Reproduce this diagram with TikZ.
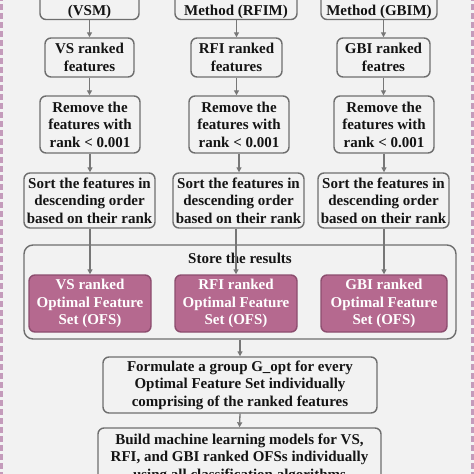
\documentclass[tikz,border=0pt]{standalone}
\usepackage{fontspec}
\setmainfont{Liberation Serif}
\usetikzlibrary{arrows.meta}
\definecolor{bg}{HTML}{F2F2F2}
\definecolor{edge}{HTML}{6E6E6E}
\definecolor{arr}{HTML}{777777}
\definecolor{pinkfill}{HTML}{B5698F}
\definecolor{pinkedge}{HTML}{8C4D6E}
\definecolor{txt}{HTML}{141414}
\definecolor{sideline}{HTML}{C49BBB}
\tikzset{
  box/.style={draw=edge, line width=1.4pt, rounded corners=6pt, fill=bg, inner sep=0pt,
    align=center, text=txt, font=\fontsize{15}{17.5}\selectfont\bfseries},
  topbox/.style={box, text height=34pt, text depth=4pt, anchor=base},
  pinkbox/.style={draw=pinkedge, line width=1.4pt, rounded corners=6pt, fill=pinkfill, inner sep=0pt,
    align=center, text=white, font=\fontsize{15}{17.5}\selectfont\bfseries},
  groupbox/.style={draw=edge, line width=1.4pt, rounded corners=9pt, inner sep=0pt},
  title/.style={inner sep=0pt, text=txt, font=\fontsize{15}{17.5}\selectfont\bfseries},
  flow/.style={draw=arr, line width=1.3pt, -{Triangle[length=5pt,width=5pt]}},
  side/.style={draw=sideline, line width=2.5pt, dash pattern=on 6pt off 3pt}
}
\begin{document}
\begin{tikzpicture}[x=1pt,y=-1pt]
\useasboundingbox (0,0) rectangle (474,474);
\clip (0,0) rectangle (474,474);
\fill[bg] (0,0) rectangle (474,474);
\coordinate (l1) at (1.5,-5); \coordinate (l2) at (1.5,480);
\coordinate (r1) at (472.5,-5); \coordinate (r2) at (472.5,480);
\draw[side] (l1) -- (l2);
\draw[side] (r1) -- (r2);

% top boxes (cut off)
\node[topbox, minimum width=99pt] (t1) at (89.5,15.5) {(VSM)};
\node[topbox, minimum width=122pt] (t2) at (236,15.5) {Method (RFIM)};
\node[topbox, minimum width=116pt] (t3) at (379,15.5) {Method (GBIM)};

% ranked features
\node[box, minimum width=89pt, minimum height=39pt] (a1) at (89.5,57.5) {VS ranked\\features};
\node[box, minimum width=91pt, minimum height=39pt] (a2) at (236.5,57.5) {RFI ranked\\features};
\node[box, minimum width=93pt, minimum height=39pt] (a3) at (383.5,57.5) {GBI ranked\\featres};

% remove
\node[box, minimum width=100pt, minimum height=57pt] (b1) at (90,124.5) {Remove the\\features with\\rank < 0.001};
\node[box, minimum width=100pt, minimum height=57pt] (b2) at (239,124.5) {Remove the\\features with\\rank < 0.001};
\node[box, minimum width=100pt, minimum height=57pt] (b3) at (384,124.5) {Remove the\\features with\\rank < 0.001};

% sort
\node[box, minimum width=131pt, minimum height=55pt] (c1) at (89.5,200.5) {Sort the features in\\descending order\\based on their rank};
\node[box, minimum width=131pt, minimum height=55pt] (c2) at (238.5,200.5) {Sort the features in\\descending order\\based on their rank};
\node[box, minimum width=131pt, minimum height=55pt] (c3) at (383.5,200.5) {Sort the features in\\descending order\\based on their rank};

% store group
\node[groupbox, minimum width=432pt, minimum height=94pt] (g) at (240,292) {};
\node[title] (gt) at (240,258) {Store the results};
\node[pinkbox, minimum width=122pt, minimum height=57pt] (p1) at (90,303.5) {VS ranked\\Optimal Feature\\Set (OFS)};
\node[pinkbox, minimum width=122pt, minimum height=57pt] (p2) at (236,303.5) {RFI ranked\\Optimal Feature\\Set (OFS)};
\node[pinkbox, minimum width=126pt, minimum height=57pt] (p3) at (384,303.5) {GBI ranked\\Optimal Feature\\Set (OFS)};

% formulate
\node[box, minimum width=274pt, minimum height=56pt] (f) at (240,385) {Formulate a group G\_opt for every\\Optimal Feature Set individually\\comprising of the ranked features};
% build
\node[box, minimum width=283pt, minimum height=60pt] (m) at (239.5,458) {Build machine learning models for VS,\\RFI, and GBI ranked OFSs individually\\using all classification algorithms};

% arrows
\draw[flow] (t1.south -| a1.north) -- (a1.north);
\draw[flow] (t2.south -| a2.north) -- (a2.north);
\draw[flow] (t3.south -| a3.north) -- (a3.north);
\draw[flow] (a1.south) -- (a1.south |- b1.north);
\draw[flow] (a2.south) -- (a2.south |- b2.north);
\draw[flow] (a3.south) -- (a3.south |- b3.north);
\draw[flow] (b1.south) -- (b1.south |- c1.north);
\draw[flow] (b2.south) -- (b2.south |- c2.north);
\draw[flow] (b3.south) -- (b3.south |- c3.north);
\draw[flow] (c1.south -| p1.north) -- (p1.north);
\draw[flow] (c2.south -| p2.north) -- (p2.north);
\draw[flow] (c3.south -| p3.north) -- (p3.north);
\draw[flow] (g.south) -- (f.north);
\draw[flow] (f.south) -- (m.north);
\end{tikzpicture}
\end{document}
